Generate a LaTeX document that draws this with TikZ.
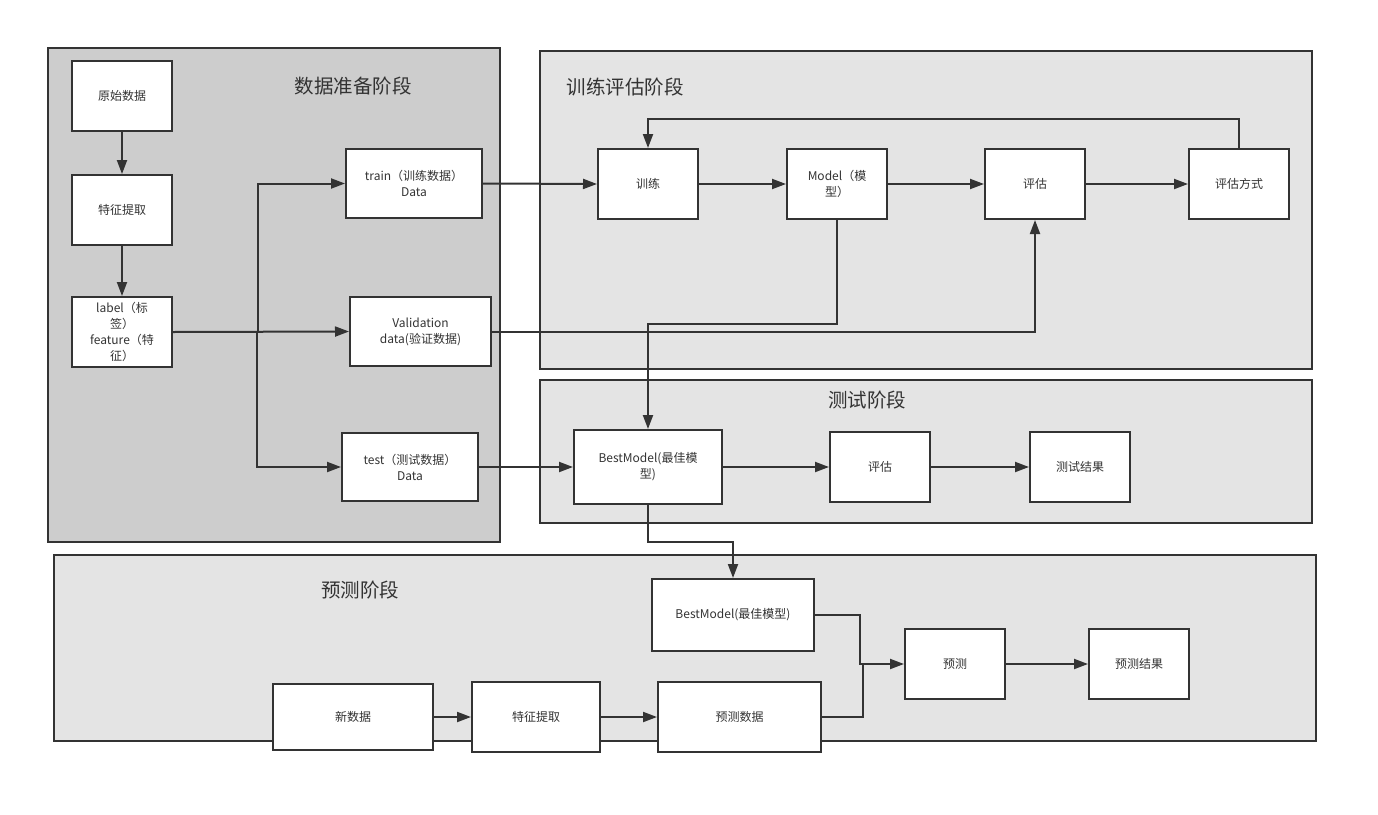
\documentclass[tikz,border=0pt]{standalone}
\usepackage{fontspec}
\setmainfont{Noto Sans CJK SC}
\usetikzlibrary{arrows.meta}
\definecolor{ln}{HTML}{333333}
\definecolor{grpA}{HTML}{CDCDCD}
\definecolor{grpB}{HTML}{E4E4E4}
\tikzset{
  grp/.style={draw=ln, line width=2pt},
  ttl/.style={text=ln, font=\fontsize{19.5}{22}\selectfont, inner sep=0pt},
  box/.style={draw=ln, fill=white, line width=2pt, align=center, text=ln,
    font=\fontsize{12}{16}\selectfont, inner sep=0pt},
  arr/.style={draw=ln, line width=2pt, -{Triangle[length=14pt,width=10pt]}},
  lnk/.style={draw=ln, line width=2pt},
}
\begin{document}
\begin{tikzpicture}[x=1pt,y=-1pt]
\useasboundingbox (0,0) rectangle (1378,814);
% groups
\draw[grp, fill=grpA] (48,48) rectangle (500,542);
\draw[grp, fill=grpB] (540,51) rectangle (1312,369);
\draw[grp, fill=grpB] (540,380) rectangle (1312,523);
\draw[grp, fill=grpB] (54,555) rectangle (1316,741);
\node[ttl] (t1) at (353,86) {数据准备阶段};
\node[ttl] (t2) at (625,87) {训练评估阶段};
\node[ttl] (t3) at (867,400) {测试阶段};
\node[ttl] (t4) at (360,590) {预测阶段};
% nodes
\node[box, minimum width=100pt, minimum height=70pt] (raw) at (122,96) {原始数据};
\node[box, minimum width=100pt, minimum height=70pt] (fe) at (122,210) {特征提取};
\node[box, minimum width=100pt, minimum height=70pt] (lab) at (122,332) {label（标\\签）\\feature（特\\征）};
\node[box, minimum width=136pt, minimum height=69pt] (trd) at (414,183.5) {train（训练数据）\\Data};
\node[box, minimum width=141pt, minimum height=69pt] (val) at (420.5,331.5) {Validation\\data(验证数据)};
\node[box, minimum width=136pt, minimum height=68pt] (tst) at (410,467) {test（测试数据）\\Data};
\node[box, minimum width=100pt, minimum height=70pt] (tr) at (648,184) {训练};
\node[box, minimum width=100pt, minimum height=70pt] (mdl) at (837,184) {Model（模\\型）};
\node[box, minimum width=100pt, minimum height=70pt] (ev) at (1035,184) {评估};
\node[box, minimum width=100pt, minimum height=70pt] (evm) at (1239,184) {评估方式};
\node[box, minimum width=148pt, minimum height=74pt] (bm1) at (648,467) {BestModel(最佳模\\型)};
\node[box, minimum width=100pt, minimum height=70pt] (ev2) at (880,467) {评估};
\node[box, minimum width=100pt, minimum height=70pt] (res) at (1080,467) {测试结果};
\node[box, minimum width=162pt, minimum height=72pt] (bm2) at (733,615) {BestModel(最佳模型)};
\node[box, minimum width=100pt, minimum height=70pt] (pred) at (955,664) {预测};
\node[box, minimum width=100pt, minimum height=70pt] (pres) at (1139,664) {预测结果};
\node[box, minimum width=160pt, minimum height=66pt] (new) at (353,717) {新数据};
\node[box, minimum width=128pt, minimum height=70pt] (fe2) at (536,717) {特征提取};
\node[box, minimum width=163pt, minimum height=70pt] (pdat) at (739.5,717) {预测数据};
% connectors
\draw[arr] (raw) -- (fe);
\draw[arr] (fe) -- (lab);
\draw[arr] (lab.east) -- (258,332) |- (trd.west);
\draw[arr] (lab.east) -- (val.west);
\draw[arr] (lab.east) -- (257,332) |- (tst.west);
\draw[arr] (trd.east) -- (tr.west);
\draw[arr] (tr) -- (mdl);
\draw[arr] (mdl) -- (ev);
\draw[arr] (ev) -- (evm);
\draw[arr] (evm.north) -- (1239,119) -| (tr.north);
\draw[arr] (val.east) -| (ev.south);
\draw[arr] (mdl.south) -- (837,324) -| (bm1.north);
\draw[arr] (tst.east) -- (bm1.west);
\draw[arr] (bm1) -- (ev2);
\draw[arr] (ev2) -- (res);
\draw[arr] (bm1.south) -- (648,542) -| (bm2.north);
\draw[arr] (bm2.east) -- (860,615) |- (pred.west);
\draw[lnk] (pdat.east) -- (863,717) -- (863,664);
\draw[arr] (pred) -- (pres);
\draw[arr] (new) -- (fe2);
\draw[arr] (fe2) -- (pdat);
\end{tikzpicture}
\end{document}
